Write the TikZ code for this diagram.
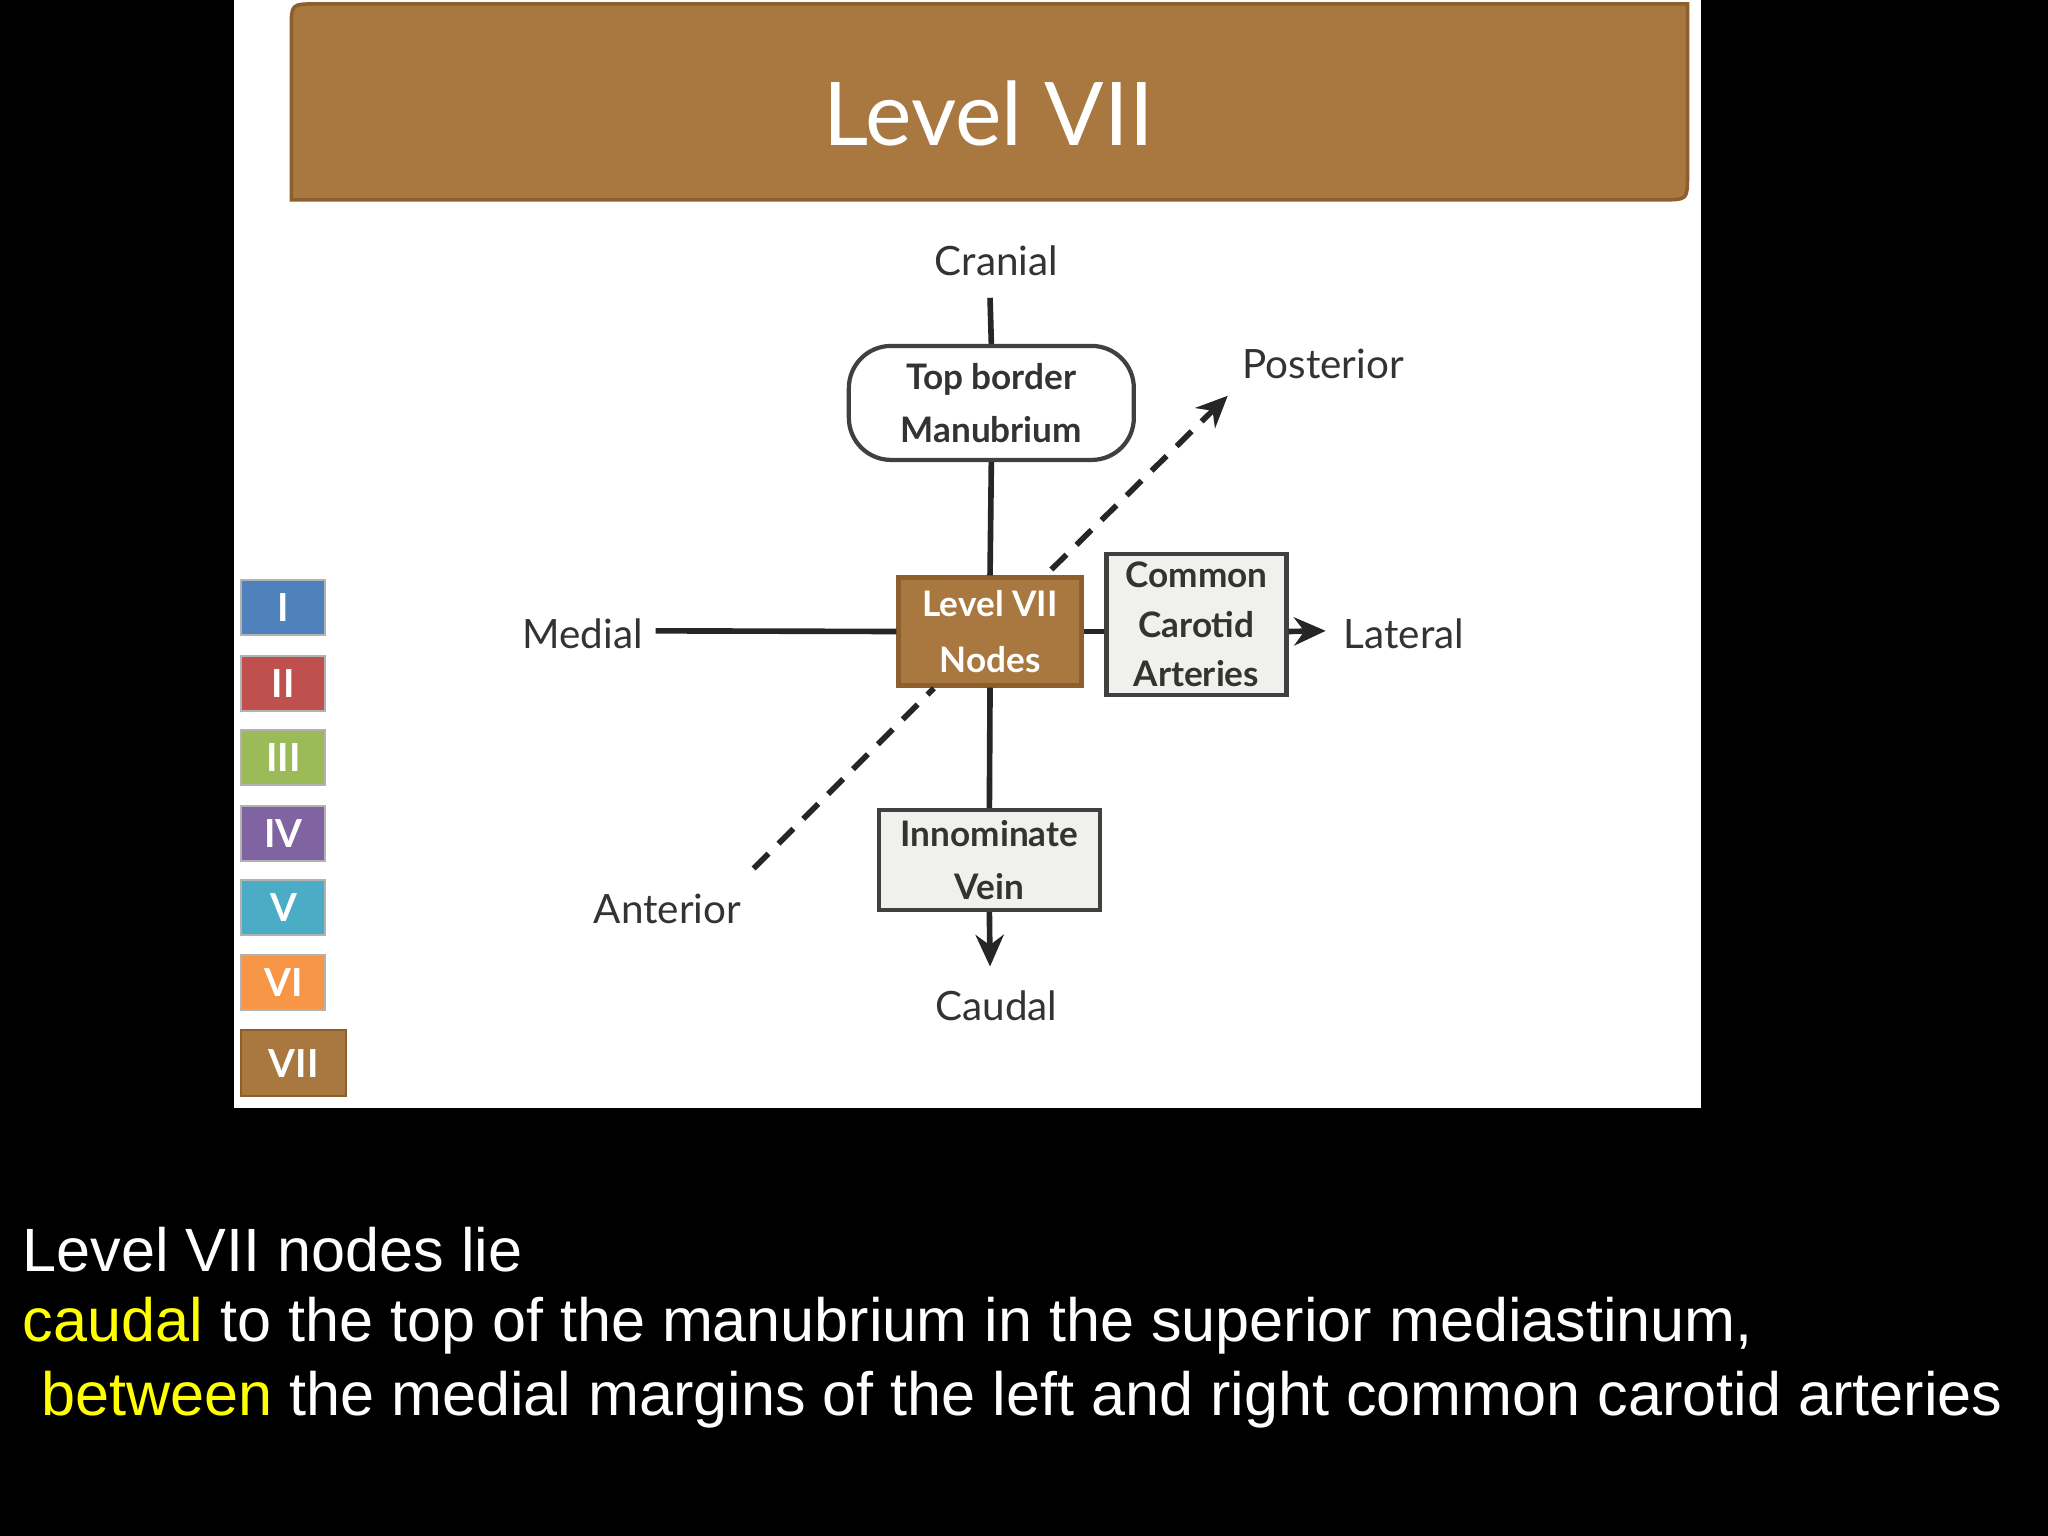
\documentclass[tikz,border=0pt]{standalone}
\usepackage{fontspec}
\setmainfont{Liberation Sans}
\newfontfamily\gill{Lato}
\usetikzlibrary{arrows.meta}
\definecolor{brn}{RGB}{168,120,64}
\definecolor{brnd}{RGB}{140,95,45}
\definecolor{lgray}{RGB}{240,240,236}
\definecolor{yel}{RGB}{255,255,0}
\begin{document}
\begin{tikzpicture}[x=0.013061cm,y=-0.013061cm,
  lab/.style={font=\gill\fontsize{11.5}{14}\selectfont,text=black!80},
  bx/.style={draw=black!75,line width=1.2pt,font=\gill\bfseries\fontsize{10}{12}\selectfont,text=black!80,align=center,inner sep=0pt},
  ln/.style={line width=1.6pt,black!85},
  dsh/.style={line width=1.6pt,black!85,dash pattern=on 6pt off 4pt},
  leg/.style={draw=black!30,line width=0.6pt,font=\gill\bfseries\fontsize{11}{13}\selectfont,text=white,inner sep=0pt},
  btxt/.style={anchor=west,font=\fontsize{17.4}{21}\selectfont,text=white}]
\fill[black] (0,0) rectangle (1568,1176);
\useasboundingbox (0,0) rectangle (1568,1176);
\fill[white] (179,0) rectangle (1302,848);
% banner
\filldraw[fill=brn,draw=brnd,line width=1pt] (223,153) -- (223,22) .. controls (223,3) .. (242,3) -- (1292,3) -- (1292,134) .. controls (1292,153) .. (1273,153) -- cycle;
\node[font=\gill\fontsize{25}{30}\selectfont,text=white] (title) at (757,87) {Level VII};
% labels
\node[lab] (cran) at (763,200) {Cranial};
\node[lab] (caud) at (763,770) {Caudal};
\node[lab] (med) at (446,485) {Medial};
\node[lab] (lat) at (1075,485) {Lateral};
\node[lab] (post) at (1013,279) {Posterior};
\node[lab] (ant) at (511,696) {Anterior};
\coordinate (cranE) at (758,228);
\coordinate (medE) at (502,483);
\coordinate (latE) at (1015,483);
\coordinate (caudE) at (758,740);
\coordinate (antE) at (577,665);
\coordinate (antS) at (715,527);
\coordinate (postS) at (805,436);
\coordinate (postE) at (940,303);
% boxes
\node[bx,rounded corners=12pt,fill=white,minimum width=2.85cm,minimum height=1.14cm] (top) at (759,308.5) {Top border\\[3pt]Manubrium};
\node[bx,fill=brn,draw=brnd,text=white,minimum width=1.83cm,minimum height=1.08cm] (ctr) at (758,483.5) {Level VII\\[4pt]Nodes};
\node[bx,fill=lgray,minimum width=1.80cm,minimum height=1.41cm] (cca) at (916,478) {Common\\[2pt]Carotid\\[2pt]Arteries};
\node[bx,fill=lgray,minimum width=2.21cm,minimum height=1.0cm] (inn) at (757.5,658.5) {Innominate\\[3pt]Vein};
% connectors
\draw[ln] (cranE) -- (top.north);
\draw[ln] (top.south) -- (ctr.north);
\draw[ln] (medE) -- (ctr.west);
\draw[ln] (ctr.east) -- (cca.west |- ctr.east);
\draw[ln,-{Stealth[length=9pt,width=8pt]}] (cca.east |- ctr.east) -- (latE);
\draw[ln] (ctr.south) -- (inn.north);
\draw[ln,-{Stealth[length=9pt,width=8pt]}] (inn.south) -- (caudE);
\draw[dsh] (antE) -- (antS);
\draw[dsh,-{Stealth[length=9pt,width=8pt]}] (postS) -- (postE);
% legend
\node[leg,fill={rgb,255:red,79;green,129;blue,189},minimum width=0.84cm,minimum height=0.55cm] (l1) at (217,465) {I};
\node[leg,fill={rgb,255:red,192;green,80;blue,77},minimum width=0.84cm,minimum height=0.55cm] (l2) at (217,523) {II};
\node[leg,fill={rgb,255:red,155;green,187;blue,89},minimum width=0.84cm,minimum height=0.55cm] (l3) at (217,580) {III};
\node[leg,fill={rgb,255:red,128;green,100;blue,162},minimum width=0.84cm,minimum height=0.55cm] (l4) at (217,638) {IV};
\node[leg,fill={rgb,255:red,75;green,172;blue,198},minimum width=0.84cm,minimum height=0.55cm] (l5) at (217,695) {V};
\node[leg,fill={rgb,255:red,247;green,150;blue,70},minimum width=0.84cm,minimum height=0.55cm] (l6) at (217,752) {VI};
\node[leg,fill=brn,draw=brnd,minimum width=1.05cm,minimum height=0.66cm] (l7) at (225,814) {VII};
% bottom text
\node[btxt] (t1) at (8,957) {Level VII nodes lie};
\node[btxt] (t2) at (8,1015) {\textcolor{yel}{caudal} to the top of the manubrium in the superior mediastinum,};
\node[btxt] (t3) at (22,1072) {\textcolor{yel}{between} the medial margins of the left and right common carotid arteries};
\end{tikzpicture}
\end{document}
